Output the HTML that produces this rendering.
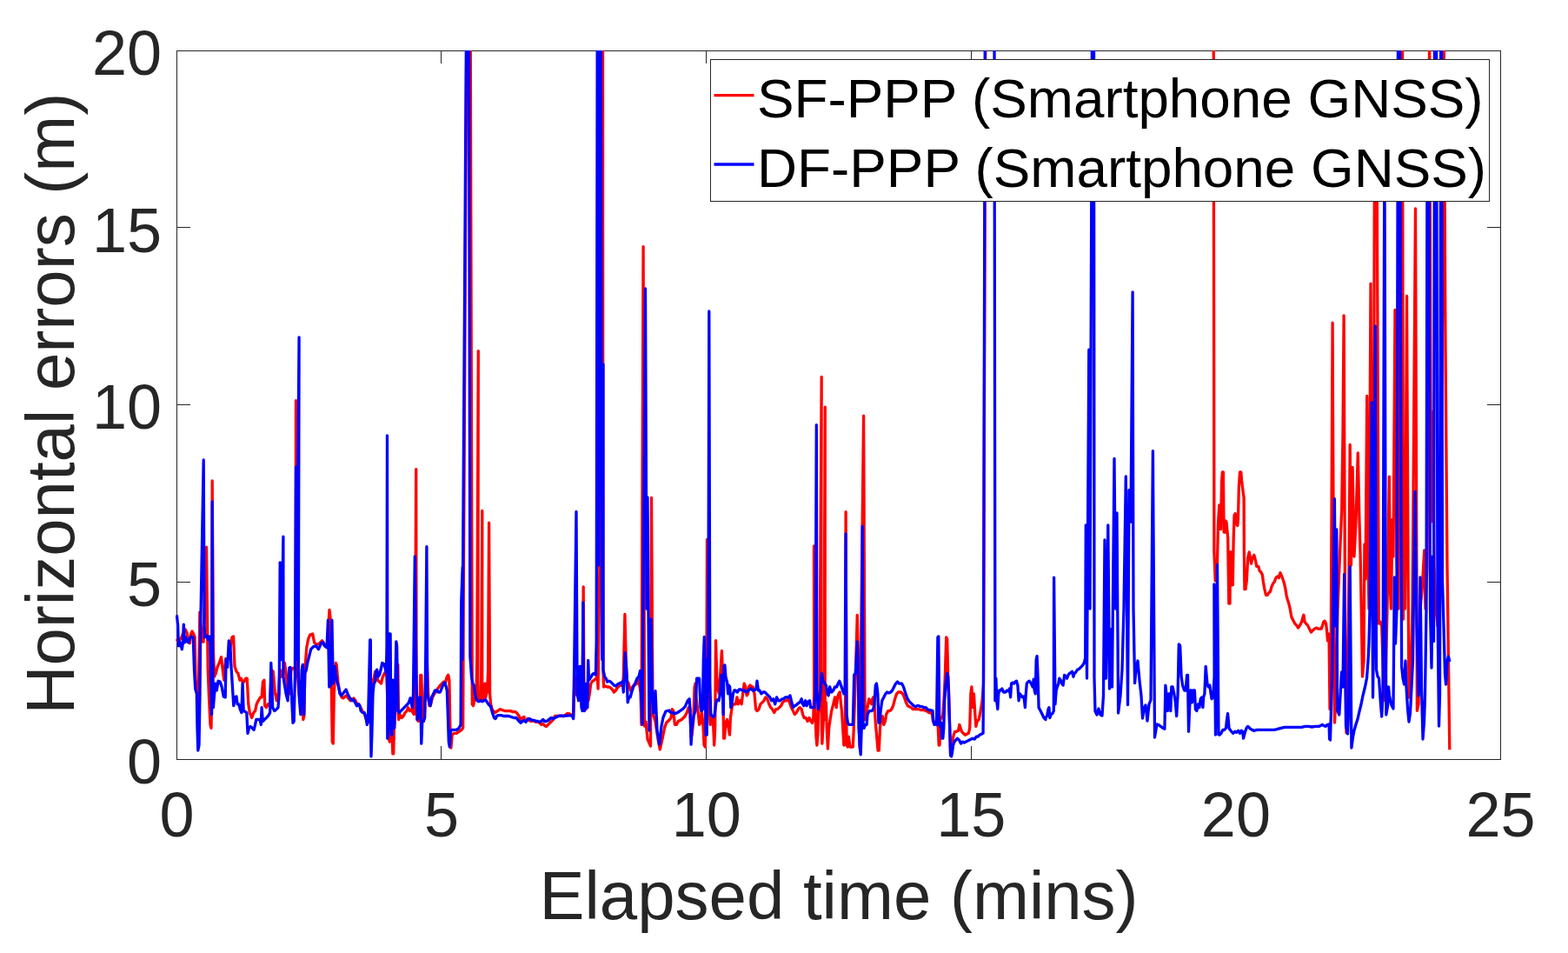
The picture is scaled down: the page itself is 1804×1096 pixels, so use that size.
<!DOCTYPE html>
<html><head><meta charset="utf-8"><title>Horizontal errors</title>
<style>html,body{margin:0;padding:0;background:#fff;overflow:hidden}svg{display:block}</style>
</head><body>
<svg width="1804" height="1096" viewBox="0 0 1804 1096">
<rect width="1804" height="1096" fill="#fff"/>
<defs><clipPath id="c"><rect x="202" y="58" width="1525" height="816"/></clipPath></defs>
<path d="M203.5 873.5V858M203.5 58.5V73M507.5 873.5V858M507.5 58.5V73M812.5 873.5V858M812.5 58.5V73M1117.5 873.5V858M1117.5 58.5V73M1726.5 873.5V858M1726.5 58.5V73M203.5 58.5H219M1726.5 58.5H1711M203.5 261.5H219M1726.5 261.5H1711M203.5 465.5H219M1726.5 465.5H1711M203.5 669.5H219M1726.5 669.5H1711M203.5 873.5H219M1726.5 873.5H1711" stroke="#262626" stroke-width="1" fill="none"/>
<rect x="203.5" y="58.5" width="1523" height="815" fill="none" stroke="#262626" stroke-width="1"/>
<g clip-path="url(#c)" fill="none" stroke-width="3.3" stroke-linejoin="round" stroke-linecap="butt">
<path stroke="#f00" d="M203.4 734.9L205.0 738.8L206.9 735.9L208.9 732.9L210.5 729.0L213.2 724.0L215.2 728.0L216.8 737.8L218.4 739.8L219.7 729.0L221.1 726.0L222.7 729.0L224.1 732.9L225.1 782.2L226.6 796.0L228.2 813.7L228.5 790.0L229.9 704.0L231.0 720.0L232.7 738.0L234.1 738.0L235.5 700.0L237.5 629.1L239.2 769.0L240.4 800.0L242.0 833.4L243.0 837.3L243.8 778.2L244.2 553.0L245.4 748.7L246.7 778.2L248.3 774.3L250.3 766.4L252.3 762.5L254.6 755.6L256.2 770.3L257.8 782.2L259.7 757.5L261.3 758.5L263.1 756.6L265.1 742.8L267.0 732.9L268.6 731.9L270.0 766.4L272.0 772.3L273.9 774.3L275.9 782.2L277.5 780.2L278.9 784.1L280.8 784.1L282.8 780.2L284.2 780.2L285.8 809.8L287.3 819.6L289.7 825.5L291.7 819.6L293.6 817.6L295.2 809.8L297.2 805.8L299.6 801.9L301.1 801.9L302.5 784.1L303.9 782.2L304.7 811.7L306.4 813.7L308.4 809.8L310.4 811.7L312.4 770.3L314.3 772.3L316.3 796.0L318.3 805.8L320.2 797.9L322.2 770.3L324.2 778.2L326.2 770.3L327.5 762.5L329.1 774.3L331.1 794.0L333.0 797.9L335.0 770.3L337.0 768.4L339.0 768.4L340.1 778.2L340.5 460.7L342.1 770.3L343.9 797.9L345.9 809.8L347.8 766.4L348.8 827.5L349.8 823.5L350.8 770.3L352.8 744.7L354.7 734.9L356.7 730.0L359.7 729.0L361.6 738.8L363.6 740.8L366.5 740.8L370.5 736.8L373.4 740.8L376.4 744.7L379.0 701.4L380.3 713.2L381.3 788.1L382.3 853.1L383.3 855.1L384.3 797.9L386.3 762.5L387.2 764.4L389.2 788.1L391.2 797.9L393.1 801.9L395.1 802.9L398.1 799.9L400.0 801.9L403.0 805.8L403.0 805.8L405.0 804.8L406.9 802.9L408.9 805.8L410.9 809.8L412.9 809.8L414.8 813.7L416.8 817.6L418.8 819.6L420.7 825.5L422.7 831.4L424.3 829.5L425.7 797.9L427.0 788.1L428.6 786.1L430.6 778.2L431.6 772.3L433.0 772.3L434.5 782.2L436.5 784.1L438.5 786.1L440.4 778.2L442.4 774.3L444.0 772.3L444.8 778.2L446.0 807.8L447.1 849.2L448.3 853.1L449.5 847.2L450.7 837.3L451.9 866.9L452.7 866.9L453.4 837.3L454.6 821.6L455.8 797.9L457.2 766.4L457.8 764.4L458.6 827.5L460.1 821.6L462.1 825.5L464.1 823.5L466.1 819.6L468.0 817.6L469.6 813.7L471.6 817.6L473.5 815.7L474.9 819.6L476.3 821.6L477.5 797.9L478.7 539.6L479.1 807.8L479.8 827.5L481.4 829.5L482.8 823.5L483.8 776.3L484.8 776.3L485.8 811.7L487.3 829.5L488.7 817.6L490.1 770.3L491.3 762.5L492.7 797.9L494.0 811.7L495.6 809.8L497.6 801.9L499.6 797.9L501.5 796.0L503.5 792.0L505.1 790.0L506.4 788.1L508.4 786.1L510.4 784.1L512.4 785.1L514.3 778.2L515.7 776.3L516.9 782.2L517.9 837.3L518.9 860.0L520.2 845.2L522.2 843.3L525.2 843.3L528.1 841.3L531.1 839.3L532.7 837.3L533.2 700.0L536.9 30.0L541.2 30.0L543.3 809.8L544.5 811.7L545.7 805.8L546.8 801.9L548.0 797.9L548.8 758.5L550.3 403.7L549.8 797.9L551.2 803.8L552.8 805.8L553.7 778.2L554.8 587.5L554.7 784.1L555.7 805.8L557.1 788.1L557.9 786.1L558.7 801.9L559.7 797.9L560.6 796.0L561.6 770.3L562.6 601.2L563.6 797.9L564.6 809.8L566.2 815.7L567.5 817.6L569.5 819.6L572.5 817.6L575.4 815.7L578.4 816.7L581.3 817.6L584.3 817.6L587.2 817.6L590.2 818.6L593.1 818.6L595.1 820.6L597.1 823.5L599.1 827.5L601.0 825.5L603.0 824.5L603.0 827.5L605.0 829.5L606.9 826.5L608.9 828.5L610.9 829.5L612.9 828.5L614.8 829.5L616.8 830.4L618.8 829.5L620.7 831.4L622.7 833.4L624.7 832.4L626.6 834.4L628.6 835.4L630.6 833.4L632.6 831.4L634.5 829.5L636.5 827.5L638.5 823.5L640.4 823.5L642.4 823.5L644.4 823.5L646.3 823.5L648.3 823.5L650.3 822.6L652.3 820.6L654.2 820.6L656.2 821.6L658.2 822.6L659.7 823.5L660.5 794.0L661.7 778.2L663.1 797.9L665.1 801.9L667.0 788.1L669.0 809.8L670.0 813.7L671.2 674.8L672.0 813.7L673.0 813.7L674.3 815.7L675.5 801.9L676.9 805.8L678.3 797.9L679.8 786.1L681.8 783.2L683.8 782.2L685.8 780.2L687.3 778.2L688.1 792.0L690.3 614.9L691.5 30.0L693.5 30.0L693.9 770.0L694.6 790.0L696.6 789.1L698.6 790.0L700.5 790.0L702.5 791.0L704.5 793.0L706.4 796.0L708.4 794.0L710.4 791.0L712.4 789.1L714.3 788.1L716.3 788.1L717.3 778.2L718.9 706.3L720.2 758.5L721.2 782.2L723.2 786.1L725.2 794.0L727.1 791.0L729.1 788.1L731.1 787.1L733.0 786.1L735.0 782.2L737.0 796.0L738.0 833.4L740.1 283.6L741.5 835.0L743.0 830.0L745.0 850.0L748.5 858.0L749.5 572.5L751.0 820.0L754.0 830.0L757.0 850.0L759.3 862.0L762.0 850.0L765.0 835.0L764.6 837.3L766.5 831.4L768.5 829.5L770.5 827.5L772.1 825.5L773.4 815.7L774.8 817.6L776.4 833.4L778.4 833.4L780.3 829.5L782.3 828.5L784.3 827.5L786.3 825.5L788.2 823.5L790.2 819.6L792.2 813.7L793.7 813.7L795.1 847.2L796.1 845.2L797.7 829.5L799.1 790.0L800.0 786.1L801.0 801.9L803.0 817.6L803.0 817.6L804.6 833.4L806.0 831.4L807.3 817.6L808.9 833.4L810.1 857.0L811.3 859.0L812.1 817.6L812.9 786.1L813.5 620.4L814.4 797.9L815.2 797.9L816.0 813.7L817.2 833.4L818.8 823.5L820.3 825.5L821.7 857.0L822.7 837.3L823.5 736.7L824.7 778.2L826.3 794.0L827.4 797.9L828.6 778.2L830.4 748.5L831.6 778.2L832.6 849.2L833.5 849.2L834.9 831.4L836.5 827.5L838.1 837.3L839.5 845.2L840.4 825.5L842.4 811.7L844.4 809.8L846.3 809.8L847.9 801.9L849.3 809.8L851.3 805.8L853.2 809.8L854.6 797.9L856.2 786.1L857.8 790.0L859.2 799.9L860.5 797.9L861.7 790.0L863.1 788.1L864.5 790.0L866.1 790.0L868.0 797.9L869.6 815.7L871.0 817.6L873.0 815.7L874.9 809.8L876.9 807.8L878.9 805.8L880.8 801.9L882.8 803.8L884.8 809.8L886.7 813.7L888.7 815.7L890.7 819.6L892.7 815.7L894.6 815.7L896.6 813.7L898.6 811.7L900.5 807.8L902.5 805.8L904.5 805.8L906.4 803.8L908.4 807.8L910.4 813.7L912.4 817.6L914.3 821.6L916.3 819.6L918.3 815.7L920.2 813.7L922.2 815.7L923.6 821.6L925.2 825.5L927.1 825.5L929.1 829.5L931.1 825.5L933.0 829.5L934.6 831.4L935.8 825.5L936.6 797.9L936.5 628.0L938.0 817.6L939.0 847.2L939.9 857.0L940.9 845.2L941.9 797.9L942.9 817.6L945.2 433.4L944.5 778.2L945.3 837.3L945.9 855.1L947.8 817.6L949.3 468.1L949.2 827.5L950.4 807.8L951.2 837.3L952.4 861.0L953.7 837.3L955.1 827.5L956.7 817.6L958.7 809.8L960.6 801.9L962.2 813.7L963.6 801.9L965.0 797.9L966.2 796.0L967.5 809.8L968.5 817.6L969.7 837.3L970.9 857.0L972.5 853.1L973.1 588.7L974.0 857.0L975.2 859.0L976.4 847.2L978.0 859.0L979.4 859.0L981.3 859.0L982.3 837.3L984.3 778.2L986.3 707.3L987.4 758.5L988.2 837.3L989.2 861.0L993.6 478.2L995.1 827.5L996.5 817.6L998.1 813.7L999.7 803.8L1001.0 807.8L1003.0 809.8L1003.0 805.8L1004.6 801.9L1006.0 809.8L1007.3 831.4L1008.9 849.2L1010.1 863.0L1011.3 863.0L1012.5 837.3L1013.8 825.5L1015.2 823.5L1016.8 833.4L1018.4 829.5L1019.7 821.6L1021.7 817.6L1023.7 817.6L1025.7 815.7L1027.6 811.7L1029.6 803.8L1031.6 797.9L1033.5 796.0L1036.5 796.0L1038.5 797.9L1040.4 801.9L1042.4 807.8L1044.4 811.7L1046.3 812.7L1048.3 813.7L1050.3 815.7L1052.3 815.7L1054.2 815.7L1057.2 815.7L1060.1 816.7L1063.1 816.7L1066.1 817.6L1069.0 819.6L1071.0 819.6L1072.4 821.6L1073.5 829.5L1074.9 831.4L1076.9 829.5L1078.9 829.5L1080.2 857.0L1081.0 857.0L1081.8 827.5L1083.4 825.5L1084.8 821.6L1086.2 801.9L1087.3 778.2L1088.7 732.9L1089.7 734.9L1090.7 778.2L1091.7 797.9L1092.7 837.3L1093.6 866.9L1094.6 866.9L1095.6 853.1L1097.2 845.2L1098.6 841.3L1100.5 841.3L1102.5 840.3L1103.9 833.4L1105.1 837.3L1106.4 841.3L1108.4 843.3L1110.4 845.2L1112.4 844.2L1114.3 843.3L1115.7 837.3L1116.9 797.9L1117.9 790.0L1119.3 813.7L1120.4 797.9L1121.6 817.6L1122.8 835.4L1124.2 829.5L1126.2 827.5L1128.1 817.6L1130.1 805.8L1131.5 786.1L1133.8 30.0"/>
<path stroke="#f00" d="M1396.2 30.0L1396.9 635.0L1398.2 667.8L1400.2 659.6L1401.5 602.1L1402.8 580.8L1403.5 582.4L1404.5 608.7L1405.6 552.9L1406.4 543.0L1407.4 543.0L1408.1 612.0L1409.4 612.0L1410.0 598.8L1411.0 600.5L1412.7 618.6L1413.8 694.1L1415.0 694.1L1415.5 635.0L1416.6 635.0L1417.3 672.8L1418.3 672.8L1419.2 618.6L1420.1 592.3L1421.2 590.6L1422.4 602.1L1423.7 604.6L1424.5 597.2L1425.3 561.1L1426.5 543.0L1427.8 543.0L1428.6 552.9L1430.2 566.0L1431.1 572.6L1431.4 635.0L1431.9 677.7L1433.0 677.7L1434.3 667.8L1435.7 641.6L1437.3 635.0L1438.5 641.6L1439.6 648.1L1440.9 641.6L1442.9 638.3L1444.5 644.8L1445.8 651.4L1447.8 651.4L1449.1 656.3L1450.8 658.0L1452.4 661.3L1453.2 667.8L1454.9 677.7L1456.5 684.3L1458.2 684.3L1459.8 681.8L1461.5 680.2L1463.1 674.4L1464.7 671.1L1466.4 668.7L1468.0 664.5L1469.7 662.9L1471.3 664.5L1473.0 658.8L1474.1 661.3L1475.4 664.5L1477.1 669.5L1478.7 676.0L1480.0 684.3L1481.2 689.2L1482.8 694.1L1484.0 699.0L1485.8 709.3L1487.7 713.2L1489.7 717.1L1491.7 719.1L1493.6 722.1L1495.6 719.1L1497.6 715.2L1499.2 709.3L1499.9 707.3L1501.1 715.2L1502.5 717.1L1504.5 719.1L1506.4 723.1L1508.4 727.0L1510.4 725.0L1512.4 723.1L1514.3 722.1L1516.3 723.1L1518.3 723.1L1520.2 723.1L1521.6 719.1L1522.8 715.2L1524.2 714.2L1525.6 717.1L1526.7 727.0L1527.5 736.8L1528.3 729.0L1528.3 729.0L1529.1 735.0L1530.0 815.6L1531.0 800.0L1533.1 371.2L1534.5 700.0L1535.5 831.0L1537.0 800.0L1539.0 700.0L1541.0 650.0L1543.7 585.6L1545.0 500.0L1546.1 362.9L1547.5 700.0L1549.0 842.8L1550.5 830.0L1553.2 511.3L1554.5 650.0L1556.1 537.4L1558.0 640.0L1560.0 600.0L1562.3 520.8L1564.0 600.0L1565.1 637.8L1566.0 687.7L1567.5 778.0L1569.0 760.0L1569.9 626.0L1571.0 666.0L1572.7 455.5L1574.0 640.0L1575.0 700.0L1577.0 326.1L1578.5 640.0L1580.0 700.0L1581.5 150.0L1584.0 150.0L1586.3 717.0L1588.0 715.0L1589.7 720.5L1591.0 760.0L1592.5 805.4L1594.0 790.0L1596.0 700.0L1598.3 548.1L1599.5 680.6L1600.5 700.0L1601.9 597.5L1603.0 640.0L1605.0 356.3L1607.0 640.0L1609.0 700.0L1611.4 30.0L1613.5 30.0L1614.5 712.0L1615.0 531.5L1616.5 700.0L1618.5 340.4L1620.0 650.0L1621.0 802.0L1622.8 790.0L1625.0 700.0L1628.5 240.0L1630.4 817.3L1632.0 810.0L1634.0 700.0L1636.0 680.0L1638.7 633.0L1640.0 700.0L1642.0 650.0L1644.6 30.0L1646.5 600.0L1648.2 473.3L1650.0 650.0L1652.0 700.0L1654.0 720.0L1656.0 700.0L1658.0 650.0L1661.2 30.0L1663.0 400.0L1665.0 650.0L1667.8 862.3"/>
<path stroke="#00f" d="M203.4 707.3L204.6 719.1L205.4 742.8L206.5 737.8L207.9 740.8L209.3 746.7L210.5 738.8L211.3 718.1L212.5 738.8L213.8 732.9L215.2 737.8L216.8 738.8L218.4 733.9L220.3 731.9L222.3 733.3L223.5 770.3L224.7 792.0L226.3 797.9L227.0 837.3L227.8 863.0L229.0 857.0L230.0 797.9L230.8 719.1L231.4 685.6L234.2 529.0L235.0 715.0L235.5 732.9L237.5 730.9L239.5 735.9L240.8 731.9L241.8 734.9L243.0 797.9L243.6 821.6L244.2 577.0L244.8 758.5L245.4 813.7L246.3 801.9L247.9 786.1L249.3 794.0L251.1 783.2L253.2 784.1L255.2 790.0L257.2 800.9L259.2 801.9L260.1 758.5L261.7 767.4L263.3 736.8L264.9 742.8L266.1 768.4L267.2 786.1L268.8 811.7L270.4 801.9L272.0 800.9L273.1 809.8L274.7 809.8L276.3 815.7L277.9 819.6L279.1 786.1L280.2 817.6L282.2 818.6L283.8 819.6L285.0 843.3L286.5 837.3L288.1 835.4L290.1 837.3L292.1 839.3L293.6 833.4L294.8 827.5L296.8 827.5L299.2 827.5L300.3 833.4L301.1 813.7L302.3 829.5L304.3 827.5L306.6 825.5L309.0 822.6L310.6 819.6L311.8 762.5L312.6 782.2L313.7 813.7L315.7 817.6L318.1 815.7L320.0 813.7L321.2 797.9L322.2 646.8L323.6 758.5L325.9 617.2L326.0 778.2L327.5 788.1L329.1 797.9L331.1 805.8L332.7 768.4L334.0 767.4L335.4 797.9L337.0 831.4L338.2 829.5L339.4 778.2L340.5 537.0L340.9 758.5L344.1 387.8L343.3 778.2L344.5 805.8L345.9 821.6L347.2 770.3L348.4 764.4L349.8 821.6L350.8 774.3L352.4 770.3L353.7 762.5L355.7 754.6L357.7 746.7L360.6 743.7L363.6 742.8L366.5 746.7L369.5 739.8L371.5 738.8L373.4 742.8L376.0 744.7L377.4 713.2L378.8 790.0L380.3 788.1L381.9 713.2L383.3 786.1L385.3 766.4L387.2 782.2L389.2 788.1L391.2 797.9L393.1 799.9L395.1 796.9L398.1 793.0L400.0 797.9L403.0 803.8L403.0 802.9L405.0 805.8L406.9 804.8L408.5 807.8L410.5 811.7L412.5 809.8L414.0 811.7L415.2 817.6L417.2 819.6L419.2 819.6L420.7 823.5L422.3 833.4L423.5 829.5L424.7 778.2L425.7 735.9L426.3 735.9L426.6 837.3L427.0 869.9L427.8 847.2L429.0 797.9L430.2 786.1L431.6 784.1L432.6 772.3L433.7 770.3L434.9 778.2L436.5 776.3L438.1 770.3L439.7 762.5L441.6 763.4L443.2 768.4L444.4 774.3L445.0 742.8L445.5 500.9L445.8 849.2L446.7 845.2L447.9 729.0L449.1 729.0L449.9 837.3L450.9 845.2L451.9 782.2L453.0 788.1L453.8 837.3L454.6 797.9L455.8 737.8L456.6 742.8L457.8 817.6L459.2 819.6L461.1 817.6L463.1 815.7L465.1 813.7L467.0 811.7L469.0 809.8L470.4 807.8L472.0 802.9L473.1 807.8L474.3 813.7L475.5 797.9L477.3 640.0L478.9 778.2L480.2 827.5L481.4 823.5L482.8 801.9L483.8 801.9L484.8 855.1L485.8 829.5L487.3 829.5L488.7 825.5L489.7 758.5L490.9 628.6L491.7 797.9L493.6 807.8L495.2 811.7L496.6 801.9L498.6 797.9L500.5 794.0L502.5 794.0L504.5 796.0L506.4 796.0L508.4 791.0L510.4 786.1L511.8 785.1L513.3 790.0L514.3 794.0L515.3 821.6L516.3 853.1L517.3 859.0L518.3 841.3L519.7 839.3L522.2 839.3L525.2 839.3L528.1 837.3L530.1 833.4L530.7 693.5L532.2 652.0L531.9 758.5L536.5 30.0L539.5 30.0L540.9 754.6L542.5 778.2L543.9 786.1L545.3 788.1L546.8 799.9L548.8 805.8L550.8 806.8L552.8 805.8L554.7 806.8L556.7 805.8L558.7 804.8L560.6 807.8L562.6 810.7L564.6 812.7L566.5 819.6L568.5 825.5L570.1 826.5L571.5 823.5L573.4 822.6L576.4 822.6L579.4 823.5L582.3 823.5L585.3 823.5L588.2 824.5L591.2 825.5L594.1 825.5L597.1 829.5L599.1 831.4L601.0 829.5L603.0 828.5L603.0 828.5L605.0 830.4L606.9 827.5L608.9 826.5L610.9 827.5L612.9 828.5L614.8 828.5L616.8 829.5L618.8 829.5L620.7 830.4L622.7 829.5L624.7 827.5L626.6 829.5L628.6 829.5L630.6 828.5L632.6 826.5L634.5 825.5L636.5 826.5L638.5 825.5L640.4 824.5L642.4 823.5L644.4 823.2L646.3 823.2L648.3 823.5L650.3 823.2L652.3 823.2L654.2 822.8L656.2 822.8L658.2 823.2L659.7 826.5L660.5 778.2L663.0 588.4L664.1 797.9L665.7 805.8L667.0 766.4L668.0 766.4L669.0 813.7L670.0 817.6L670.8 692.9L671.6 815.7L672.4 817.6L673.5 813.7L674.7 786.1L675.9 813.7L676.7 759.5L677.5 782.2L678.9 780.2L680.2 778.2L681.8 775.3L683.8 774.3L685.4 776.3L686.2 738.8L687.2 30.0L688.7 650.0L690.0 30.0L691.2 30.0L692.7 758.5L694.0 418.8L694.0 770.3L695.6 778.2L697.2 780.2L698.6 784.1L700.5 783.2L702.5 784.1L704.5 786.1L706.4 788.1L708.4 789.1L710.4 787.1L712.4 786.1L714.3 785.1L716.3 784.1L717.3 796.0L718.3 778.2L719.3 750.6L720.2 762.5L721.2 778.2L722.2 807.8L723.6 801.9L725.2 801.9L726.7 796.0L728.7 790.0L730.7 786.1L733.0 780.2L735.0 778.2L736.6 771.5L739.0 833.0L742.5 332.0L744.0 700.0L745.0 572.0L747.0 840.0L749.0 712.0L750.5 800.0L752.0 820.0L754.0 794.6L756.0 840.0L758.7 856.0L761.0 835.0L763.0 825.0L766.0 818.0L770.0 817.0L770.5 818.6L773.4 819.6L776.4 820.6L779.4 819.6L782.3 817.6L785.3 815.7L788.2 812.7L791.2 805.8L793.1 803.8L794.1 817.6L795.1 856.1L796.1 837.3L798.1 823.5L800.0 817.6L801.6 780.2L803.0 780.2L803.0 780.2L804.6 780.2L806.0 813.7L806.9 817.6L808.5 815.7L809.3 758.5L810.3 732.5L811.3 778.2L812.1 845.2L813.2 845.2L814.0 758.5L814.8 782.2L815.8 358.0L816.8 786.1L817.8 821.6L819.2 823.5L820.7 824.5L821.9 823.5L823.1 813.7L824.3 805.8L825.7 804.8L827.0 805.8L828.6 797.9L829.8 776.3L831.0 778.2L832.2 821.6L833.0 766.4L833.9 765.0L834.9 778.2L836.5 784.1L837.7 797.9L838.5 788.1L839.7 790.0L840.8 813.7L842.0 809.8L843.4 797.9L844.8 794.0L846.3 794.0L848.3 796.0L850.3 793.0L852.3 793.0L854.2 794.0L856.2 794.0L858.2 796.0L860.1 795.0L862.1 793.0L864.1 792.0L866.1 794.0L868.0 794.0L870.0 792.0L871.0 783.2L872.4 794.0L873.9 794.0L875.9 797.9L877.9 796.0L879.8 796.0L881.8 797.9L883.8 799.9L885.8 801.9L887.7 805.8L889.7 803.8L891.7 809.8L893.6 801.9L895.6 805.8L897.6 805.8L899.6 803.8L901.5 803.8L903.5 801.9L905.5 801.9L907.4 801.9L909.0 799.9L910.4 805.8L912.4 813.7L914.3 811.7L916.3 810.7L918.3 808.8L920.2 807.8L922.2 803.8L923.6 809.8L924.8 811.7L926.7 805.8L928.1 811.7L930.1 806.8L931.5 805.8L932.7 813.7L934.6 813.7L936.6 813.7L938.0 797.9L939.3 488.7L939.9 794.0L941.3 815.7L942.5 809.8L943.9 797.9L945.3 774.3L946.8 782.2L948.8 786.1L950.4 788.1L951.8 797.9L953.1 799.9L954.7 790.0L956.7 796.0L958.7 794.0L960.6 790.0L962.6 790.0L964.2 786.1L965.8 783.2L967.5 788.1L969.5 794.0L970.9 797.9L972.1 797.9L973.1 613.8L974.0 821.6L975.4 831.4L976.8 833.4L978.4 833.4L979.9 833.4L981.3 833.4L982.7 776.3L984.3 774.3L986.3 737.8L987.2 758.5L988.2 837.3L989.2 857.0L990.2 867.9L991.2 837.3L992.2 605.1L993.1 833.4L994.1 837.3L995.7 833.4L997.1 833.4L998.1 821.6L1000.0 817.6L1003.0 817.6L1003.0 817.6L1004.6 815.7L1006.0 809.8L1007.3 788.1L1008.5 786.1L1009.9 797.9L1010.9 831.4L1011.9 831.4L1013.2 817.6L1014.8 805.8L1016.8 801.9L1018.8 797.9L1020.7 796.0L1022.7 796.9L1024.7 796.0L1026.6 794.0L1028.6 790.0L1030.6 786.1L1032.6 784.1L1034.5 786.1L1037.5 786.1L1039.5 790.0L1041.4 796.0L1043.4 801.9L1045.4 805.8L1047.3 807.8L1049.3 809.8L1051.3 811.7L1053.2 812.7L1055.2 811.7L1057.2 811.7L1059.2 812.7L1061.1 812.7L1063.1 813.7L1065.1 813.7L1067.0 815.7L1069.0 816.7L1071.0 816.7L1073.0 817.6L1073.9 829.5L1074.9 833.4L1075.9 831.4L1077.5 833.4L1078.9 732.9L1079.8 731.9L1080.8 833.4L1081.8 835.4L1082.8 831.4L1083.8 849.2L1084.8 849.2L1085.8 837.3L1086.7 805.8L1088.1 786.1L1089.7 774.3L1090.7 778.2L1091.7 807.8L1092.7 837.3L1093.6 868.9L1094.6 869.9L1095.6 864.9L1096.6 857.0L1098.0 853.1L1099.6 851.1L1101.5 849.2L1103.5 851.1L1105.5 855.1L1107.4 853.1L1109.4 854.1L1111.4 853.1L1113.3 852.1L1115.3 851.1L1117.3 850.1L1119.3 849.2L1121.2 850.1L1123.2 847.2L1125.2 847.2L1127.1 845.2L1129.1 844.2L1131.1 843.3L1131.5 778.2L1133.3 30.0L1144.0 30.0L1144.9 805.8L1145.9 780.2L1146.8 805.8L1147.8 815.7L1148.8 797.9L1149.8 794.0L1151.2 794.0L1152.8 792.0L1154.7 796.0L1156.7 796.0L1158.7 794.0L1160.6 795.0L1161.6 792.0L1162.6 801.9L1163.6 786.1L1165.0 785.1L1166.5 786.1L1168.1 784.1L1169.5 783.2L1170.9 788.1L1172.1 805.8L1173.4 797.9L1174.8 799.9L1176.4 801.9L1178.0 800.9L1179.4 813.7L1180.3 797.9L1181.3 786.1L1182.7 784.1L1184.3 783.2L1186.3 786.1L1188.2 790.0L1189.2 781.2L1190.2 794.0L1191.2 797.9L1192.2 758.5L1193.1 754.6L1194.1 778.2L1195.1 813.7L1197.1 817.6L1199.1 821.6L1201.0 825.5L1203.0 827.5L1203.0 825.5L1204.6 823.5L1206.0 815.7L1206.9 813.7L1207.9 825.5L1209.3 821.6L1210.9 820.6L1212.3 817.6L1212.6 664.1L1214.0 809.8L1215.2 794.0L1216.4 790.0L1217.8 786.1L1218.8 780.2L1220.3 782.2L1221.7 786.1L1223.1 788.1L1224.7 776.3L1226.3 778.2L1227.6 780.2L1229.0 776.3L1230.6 774.3L1232.2 773.3L1233.5 772.3L1234.9 778.2L1236.1 774.3L1237.5 773.3L1239.5 770.3L1241.4 769.4L1243.4 767.4L1245.4 765.4L1247.3 762.5L1248.7 756.6L1249.3 604.0L1250.5 780.0L1252.8 402.2L1254.0 700.0L1256.5 30.0L1258.5 30.0L1259.0 780.0L1260.0 818.0L1262.0 822.0L1264.0 815.0L1266.0 822.0L1268.0 823.0L1269.5 800.0L1271.0 621.0L1272.5 780.0L1274.8 604.0L1276.5 792.0L1278.0 723.6L1279.5 790.0L1282.0 527.3L1283.5 700.0L1285.0 590.0L1286.6 820.0L1289.0 800.0L1291.0 770.0L1293.0 700.0L1295.3 548.0L1297.5 810.6L1299.0 563.7L1301.0 600.0L1303.1 335.8L1304.0 700.0L1305.6 785.7L1307.0 770.0L1309.0 760.0L1311.0 782.6L1313.0 800.0L1314.5 826.0L1316.0 815.0L1318.0 811.0L1320.0 829.0L1322.0 810.0L1324.0 805.0L1326.4 518.6L1328.5 848.0L1331.0 833.0L1330.7 833.4L1333.0 833.4L1335.4 835.4L1338.0 837.3L1339.9 838.3L1340.9 788.1L1341.9 797.9L1343.3 817.6L1344.5 797.9L1345.7 797.9L1346.8 817.6L1347.8 790.0L1349.2 790.0L1350.8 797.9L1352.4 807.8L1353.7 823.5L1355.1 797.9L1356.3 740.8L1357.7 742.8L1359.1 778.2L1360.6 788.1L1362.6 794.0L1364.2 794.0L1365.6 776.3L1366.5 776.3L1367.5 841.3L1368.5 817.6L1369.5 794.0L1370.5 794.0L1371.5 807.8L1372.9 794.0L1374.4 794.0L1375.4 815.7L1376.8 817.6L1378.4 809.8L1379.9 813.7L1381.3 803.8L1382.7 801.9L1383.9 813.7L1384.7 801.9L1385.9 797.9L1387.2 766.4L1388.2 778.2L1389.2 788.1L1390.2 790.0L1391.8 788.1L1393.1 797.9L1394.1 803.8L1395.7 801.9L1397.1 778.2L1396.9 672.0L1398.5 845.0L1400.5 649.5L1402.0 845.0L1403.0 845.2L1405.0 843.3L1406.9 839.3L1408.9 839.3L1410.5 837.3L1411.3 829.5L1412.5 820.6L1413.2 827.5L1414.0 837.3L1415.2 839.3L1416.8 841.3L1418.8 843.3L1420.7 841.3L1422.7 842.3L1424.7 840.3L1426.6 843.3L1428.2 840.3L1429.6 841.3L1430.6 849.2L1431.6 845.2L1432.6 841.3L1434.1 837.3L1435.5 835.4L1436.9 836.4L1438.5 838.3L1440.4 839.3L1442.4 840.3L1446.3 839.3L1450.3 839.3L1454.2 839.3L1458.2 839.3L1462.1 839.3L1466.1 839.3L1470.0 838.3L1473.9 837.3L1477.9 836.4L1481.8 836.4L1485.8 836.4L1489.7 836.4L1493.6 836.4L1497.6 836.4L1501.5 835.4L1505.5 835.4L1509.4 836.0L1513.3 835.4L1517.3 835.4L1519.3 834.4L1521.2 833.4L1523.2 834.4L1525.2 835.4L1527.1 833.4L1528.1 833.4L1529.1 833.0L1529.6 850.0L1530.5 851.0L1532.5 780.0L1535.4 573.7L1536.5 720.0L1537.8 609.0L1538.6 817.0L1540.8 822.0L1542.5 792.0L1543.5 773.0L1545.0 790.0L1546.6 660.4L1548.5 835.0L1550.5 844.0L1551.5 820.0L1553.2 652.0L1554.9 860.0L1556.5 848.0L1558.0 840.0L1560.0 833.0L1562.0 827.0L1564.0 818.0L1566.0 810.0L1568.0 800.0L1570.5 790.0L1572.5 780.0L1574.0 760.0L1575.0 740.0L1576.0 700.0L1578.2 462.6L1579.5 802.0L1581.0 690.0L1582.2 374.8L1583.5 770.0L1585.0 778.0L1586.5 780.0L1588.5 810.0L1589.7 824.0L1591.0 800.0L1592.9 150.0L1594.2 700.0L1594.8 822.0L1596.5 812.0L1597.5 790.0L1598.5 800.0L1600.5 810.0L1603.0 815.0L1604.3 664.0L1605.5 740.0L1607.0 700.0L1608.5 30.0L1610.5 30.0L1612.0 600.0L1612.6 766.0L1614.0 780.0L1615.5 787.0L1617.0 760.0L1618.0 790.0L1619.5 815.0L1621.0 830.0L1622.5 820.0L1624.0 790.0L1625.5 760.0L1628.0 565.4L1630.0 720.0L1632.0 800.0L1633.0 780.0L1634.0 664.0L1635.5 790.0L1637.0 850.0L1638.5 830.0L1639.5 800.0L1641.0 700.0L1642.0 150.0L1644.0 150.0L1645.5 700.0L1647.0 768.0L1648.5 640.0L1649.5 737.5L1650.5 30.0L1652.5 30.0L1654.0 700.0L1655.5 835.0L1656.5 800.0L1657.7 30.0L1658.5 30.0L1659.5 668.0L1661.0 720.0L1662.5 775.0L1663.6 787.0L1665.0 760.0L1666.5 755.0L1667.8 761.0"/>
</g>
<text x="186" y="900.8" font-family="Liberation Sans, Arial, sans-serif" font-size="72" fill="#262626" text-anchor="end">0</text>
<text x="186" y="697.0" font-family="Liberation Sans, Arial, sans-serif" font-size="72" fill="#262626" text-anchor="end">5</text>
<text x="186" y="493.3" font-family="Liberation Sans, Arial, sans-serif" font-size="72" fill="#262626" text-anchor="end">10</text>
<text x="186" y="289.6" font-family="Liberation Sans, Arial, sans-serif" font-size="72" fill="#262626" text-anchor="end">15</text>
<text x="186" y="85.8" font-family="Liberation Sans, Arial, sans-serif" font-size="72" fill="#262626" text-anchor="end">20</text>
<text x="203.5" y="962" font-family="Liberation Sans, Arial, sans-serif" font-size="72" fill="#262626" text-anchor="middle">0</text>
<text x="508.1" y="962" font-family="Liberation Sans, Arial, sans-serif" font-size="72" fill="#262626" text-anchor="middle">5</text>
<text x="812.7" y="962" font-family="Liberation Sans, Arial, sans-serif" font-size="72" fill="#262626" text-anchor="middle">10</text>
<text x="1117.3" y="962" font-family="Liberation Sans, Arial, sans-serif" font-size="72" fill="#262626" text-anchor="middle">15</text>
<text x="1421.9" y="962" font-family="Liberation Sans, Arial, sans-serif" font-size="72" fill="#262626" text-anchor="middle">20</text>
<text x="1726.5" y="962" font-family="Liberation Sans, Arial, sans-serif" font-size="72" fill="#262626" text-anchor="middle">25</text>
<text x="965" y="1057" font-family="Liberation Sans, Arial, sans-serif" font-size="78" fill="#262626" text-anchor="middle">Elapsed time (mins)</text>
<text transform="translate(85,464.3) rotate(-90)" font-family="Liberation Sans, Arial, sans-serif" font-size="78" fill="#262626" text-anchor="middle">Horizontal errors (m)</text>
<rect x="817.5" y="68.5" width="896" height="163" fill="#fff" stroke="#262626" stroke-width="1"/>
<path d="M821.5 109.7H867.5" stroke="#f00" stroke-width="3.3"/>
<path d="M821.5 189H867.5" stroke="#00f" stroke-width="3.3"/>
<text x="871" y="134.5" font-family="Liberation Sans, Arial, sans-serif" font-size="63.8" fill="#000">SF-PPP (Smartphone GNSS)</text>
<text x="871" y="214.5" font-family="Liberation Sans, Arial, sans-serif" font-size="63.8" fill="#000">DF-PPP (Smartphone GNSS)</text>
</svg>
</body></html>
